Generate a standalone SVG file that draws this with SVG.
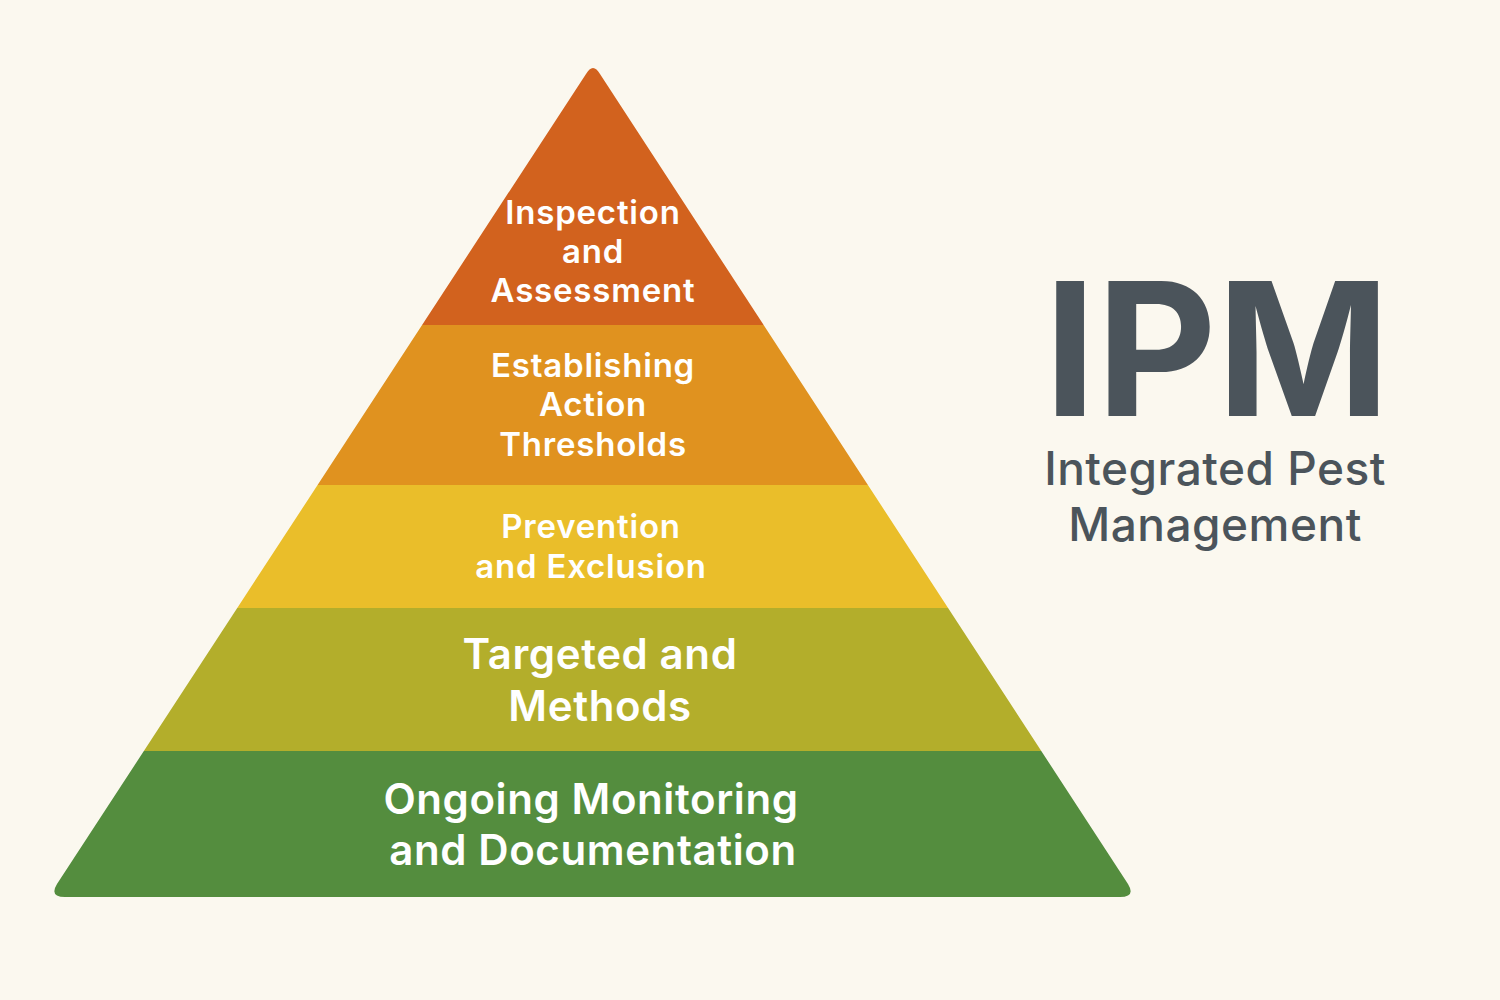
<svg xmlns="http://www.w3.org/2000/svg" width="1500" height="1000" viewBox="0 0 1500 1000">
<style>
.t{font-family:"Inter","Noto Sans",sans-serif;font-weight:600;fill:#fff;text-anchor:middle}
.s{font-size:33px;letter-spacing:0.8px}.l{font-size:42px;letter-spacing:0.6px}
.h{font-family:"Inter","Noto Sans",sans-serif;fill:#4B545B;text-anchor:middle}
</style>
<defs>
<clipPath id="pyr"><path d="M586,74 Q593,62 600,74 L1128,884 Q1136,897 1120,897 L65,897 Q49,897 57,884 Z"/></clipPath>
</defs>
<rect width="1500" height="1000" fill="#FBF8EF"/>
<g clip-path="url(#pyr)">
<g id="level1"><rect x="0" y="0" width="1500" height="325" fill="#D2621E"/>
<text class="t s" x="593" y="224">Inspection</text><text class="t s" x="593" y="263">and</text><text class="t s" x="593" y="302">Assessment</text></g>
<g id="level2"><rect x="0" y="325" width="1500" height="160" fill="#E0921F"/>
<text class="t s" x="593" y="377">Establishing</text><text class="t s" x="593" y="416">Action</text><text class="t s" x="593" y="456">Thresholds</text></g>
<g id="level3"><rect x="0" y="485" width="1500" height="123" fill="#EABE2A"/>
<text class="t s" x="591" y="538">Prevention</text><text class="t s" x="591" y="578">and Exclusion</text></g>
<g id="level4"><rect x="0" y="608" width="1500" height="143" fill="#B3AE2B"/>
<text class="t l" x="600" y="669">Targeted and</text><text class="t l" x="600" y="721">Methods</text></g>
<g id="level5"><rect x="0" y="751" width="1500" height="160" fill="#548D3E"/>
<text class="t l" x="591" y="814">Ongoing Monitoring</text><text class="t l" x="593" y="865">and Documentation</text></g>
</g>
<g id="connectors"></g>
<g id="title">
<text class="h" x="1217" y="416" font-weight="700" font-size="186">IPM</text>
<text class="h" x="1215" y="485" font-weight="500" font-size="46" letter-spacing="0.5">Integrated Pest</text>
<text class="h" x="1215" y="541" font-weight="500" font-size="46" letter-spacing="0.5">Management</text>
</g>
</svg>
